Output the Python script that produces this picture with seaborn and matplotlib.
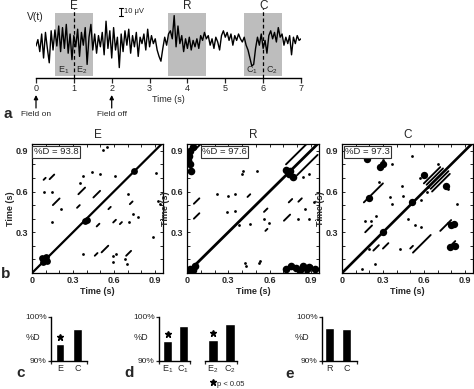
import numpy as np
import pandas as pd
import matplotlib
matplotlib.use("Agg")
import matplotlib.pyplot as plt
from matplotlib.lines import Line2D
import seaborn as sns

# ---------------- data ----------------
trace_t = np.round(np.arange(0, 141) * 0.05, 2)
trace_uv = [
    -5, 3, -12, 10, -20, 12, -8, -26, 14, -10,
    15, -5, 20, -12, 18, -8, 22, -14, 10, -22,
    8, -6, 16, -18, 12, -4, 18, -28, 6, 22,
    -10, 10, -14, 8, -6, 12, -16, 26, -8, 14,
    -20, 18, -10, 6, -32, 10, -12, 14, -4, 16,
    -14, 8, -6, 12, -18, 6, -2, 10, -10, 16,
    -6, 8, -2, 4, -10, -18, -24, -8, 6, -4,
    10, 14, 4, 33, -6, 20, -2, 8, -12, 4,
    -8, 6, -10, 2, -6, 4, -8, 8, 2, 12,
    4, 8, -4, 4, -8, 6, 0, -10, 8, 14,
    6, 12, 2, 10, -4, 8, 2, 10, 4, 0,
    6, -4, -10, -20, -30, -28, -8, 6, -4, 10,
    -8, 2, -14, 8, 14, 4, 12, 0, 18, 6,
    10, -4, 6, -2, 8, -16, 6, -2, 8, 2,
    4,
]
window_names = ["E", "R", "C"]
window_start = [0.5, 3.5, 5.5]
window_end = [1.5, 4.5, 6.5]
window_center = [1.0, 4.0, 6.0]
split_times = [1.0, 6.0]
sub_labels = ["E$_1$", "E$_2$", "C$_1$", "C$_2$"]
sub_times = [0.74, 1.21, 5.7, 6.23]
field_labels = ["Field on", "Field off"]
field_times = [0.0, 2.0]
pct_D = [93.8, 97.6, 97.3]

# recurrence plots: diagonal line segments (x0, y0, length) and points
E_seg_x0 = [0.00, 0.129, 0.153, 0.34, 0.45, 0.51, 0.69, 0.595, 0.46, 0.717, 0.56, 0.33, 0.474, 0.644, 0.085]
E_seg_y0 = [0.00, 0.691, 0.50, 0.58, 0.556, 0.152, 0.127, 0.372, 0.127, 0.507, 0.47, 0.48, 0.343, 0.36, 0.686]
E_seg_len = [0.95, 0.034, 0.049, 0.049, 0.049, 0.049, 0.036, 0.02, 0.02, 0.02, 0.017, 0.02, 0.02, 0.015, 0.015]
E_blob_x = [0.09, 0.07, 0.11, 0.08, 0.10, 0.40, 0.39, 0.75]
E_blob_y = [0.10, 0.11, 0.09, 0.08, 0.12, 0.39, 0.38, 0.75]
E_dot_x = [0.085, 0.146, 0.146, 0.352, 0.377, 0.437, 0.498, 0.607, 0.522, 0.547, 0.911, 0.923, 0.935,
           0.705, 0.712, 0.377, 0.595, 0.615, 0.595, 0.68, 0.693, 0.887, 0.778, 0.21, 0.74]
E_dot_y = [0.593, 0.598, 0.372, 0.666, 0.715, 0.745, 0.728, 0.715, 0.906, 0.931, 0.735, 0.532, 0.507,
           0.58, 0.372, 0.14, 0.127, 0.14, 0.078, 0.103, 0.066, 0.262, 0.409, 0.47, 0.434]

R_seg_x0 = [0.00, 0.72, 0.80, 0.06, 0.05, 0.05, 0.44, 0.56, 0.705, 0.74, 0.81, 0.57, 0.86]
R_seg_y0 = [0.00, 0.80, 0.72, 0.91, 0.51, 0.40, 0.56, 0.45, 0.385, 0.52, 0.525, 0.31, 0.00]
R_seg_len = [0.95, 0.15, 0.15, 0.04, 0.04, 0.04, 0.02, 0.025, 0.045, 0.025, 0.025, 0.015, 0.05]
R_blob_x = [0.02, 0.04, 0.02, 0.015, 0.02, 0.03, 0.045, 0.01, 0.74, 0.72, 0.77, 0.75,
            0.72, 0.755, 0.79, 0.82, 0.84, 0.87, 0.89, 0.93, 0.06]
R_blob_y = [0.03, 0.02, 0.90, 0.86, 0.80, 0.75, 0.93, 0.83, 0.73, 0.76, 0.71, 0.75,
            0.03, 0.05, 0.04, 0.02, 0.05, 0.03, 0.045, 0.03, 0.05]
R_dot_x = [0.42, 0.43, 0.525, 0.53, 0.40, 0.41, 0.51, 0.30, 0.35, 0.29, 0.35, 0.46, 0.595,
           0.89, 0.84, 0.89, 0.38, 0.81, 0.22, 0.56, 0.86, 0.92]
R_dot_y = [0.07, 0.05, 0.07, 0.09, 0.73, 0.75, 0.75, 0.57, 0.58, 0.45, 0.46, 0.36, 0.37,
           0.40, 0.71, 0.73, 0.35, 0.40, 0.58, 0.40, 0.47, 0.52]

C_seg_x0 = [0.00, 0.60, 0.62, 0.65, 0.66, 0.16, 0.72, 0.52, 0.17, 0.23, 0.30, 0.50, 0.78]
C_seg_y0 = [0.00, 0.66, 0.65, 0.62, 0.60, 0.52, 0.31, 0.15, 0.30, 0.165, 0.18, 0.18, 0.185]
C_seg_len = [0.95, 0.12, 0.12, 0.13, 0.13, 0.14, 0.08, 0.13, 0.05, 0.04, 0.04, 0.02, 0.05]
C_blob_x = [0.30, 0.51, 0.18, 0.30, 0.28, 0.20, 0.80, 0.82, 0.79, 0.83, 0.60, 0.76]
C_blob_y = [0.30, 0.52, 0.84, 0.80, 0.78, 0.55, 0.35, 0.36, 0.19, 0.20, 0.72, 0.64]
C_dot_x = [0.30, 0.37, 0.51, 0.27, 0.35, 0.37, 0.44, 0.45, 0.58, 0.63, 0.84, 0.535, 0.58, 0.78,
           0.17, 0.21, 0.195, 0.425, 0.24, 0.146, 0.57, 0.78, 0.70, 0.62, 0.48, 0.25]
C_dot_y = [0.83, 0.80, 0.86, 0.67, 0.56, 0.51, 0.64, 0.57, 0.54, 0.63, 0.51, 0.35, 0.34, 0.37,
           0.385, 0.385, 0.175, 0.175, 0.066, 0.03, 0.70, 0.62, 0.80, 0.60, 0.40, 0.42]

# bar panels
c_labels = ["E", "C"]
c_values = [93.8, 97.3]
c_sig = [True, False]
d1_labels = ["E$_1$", "C$_1$"]
d1_values = [94.5, 98.0]
d1_sig = [True, False]
d2_labels = ["E$_2$", "C$_2$"]
d2_values = [94.8, 98.5]
d2_sig = [True, False]
e_labels = ["R", "C"]
e_values = [97.6, 97.3]
e_sig = [False, False]

# ---------------- figure ----------------
W, H = 474, 389
sns.set_style("white")
plt.rcParams["font.family"] = ["Liberation Sans", "DejaVu Sans"]
plt.rcParams["mathtext.fontset"] = "custom"
plt.rcParams["mathtext.rm"] = "Liberation Sans"
plt.rcParams["mathtext.it"] = "Liberation Sans"
fig = plt.figure(figsize=(W / 100, H / 100), dpi=100)


def ax_px(l, t, r, b):
    return fig.add_axes([l / W, 1 - b / H, (r - l) / W, (b - t) / H])


def ftext(x, y, s, **kw):
    fig.text(x / W, 1 - y / H, s, **kw)


# ---- panel a ----
axa = ax_px(36, 0, 301, 78)
axa.set_xlim(0, 7)
axa.set_ylim(-45, 52.5)
for s, e in zip(window_start, window_end):
    axa.fill_between([s, e], -42.5, 36, color="#bdbdbd", lw=0)
for t in split_times:
    axa.plot([t, t], [-45, 42.5], ls=(0, (3, 2)), color="k", lw=0.9)
sns.lineplot(x=trace_t, y=trace_uv, ax=axa, color="k", lw=1.0)
for name, c in zip(window_names, window_center):
    axa.text(c, 45, name, ha="center", va="center", fontsize=8.5)
for lab, t in zip(sub_labels, sub_times):
    axa.text(t, -35, lab, ha="center", va="center", fontsize=6.5)
# scale bar
axa.plot([2.245, 2.245], [32.5, 42.5], color="k", lw=0.8)
axa.plot([2.205, 2.285], [42.5, 42.5], color="k", lw=0.8)
axa.plot([2.205, 2.285], [32.5, 32.5], color="k", lw=0.8)
axa.text(2.33, 38.5, "10 \u03bcV", fontsize=5.5, va="center", ha="left")
for sp in ["top", "left", "right"]:
    axa.spines[sp].set_visible(False)
axa.spines["bottom"].set_linewidth(1.0)
axa.spines["bottom"].set_color("k")
axa.set_xticks(range(8))
axa.set_yticks([])
axa.tick_params(axis="x", direction="out", length=3.5, width=0.9, pad=1, labelsize=6.5, bottom=True)
axa.set_xlabel("Time (s)", fontsize=6.5, labelpad=1.5)
axa.set_ylabel("")
for lab, t in zip(field_labels, field_times):
    axa.annotate("", xy=(t, H - 95), xytext=(t, H - 108), xycoords=("data", "figure pixels"),
                 textcoords=("data", "figure pixels"),
                 arrowprops=dict(arrowstyle="-|>", color="k", lw=0.9, mutation_scale=6, shrinkA=0, shrinkB=0),
                 annotation_clip=False)
    axa.annotate(lab, xy=(t, H - 114), xycoords=("data", "figure pixels"), ha="center", va="center",
                 fontsize=6, annotation_clip=False)
ftext(27, 17, "V(t)", fontsize=7.5, va="center", ha="left")
ftext(8, 114, "a", fontsize=11, fontweight="bold", va="center", ha="center")

# ---- panel b ----
rp_boxes = [(32, 144, 163, 273), (187, 144, 319, 273), (342, 144, 473, 273)]
label_x = [0.012, 0.115, 0.025]
rp_data = [
    (E_seg_x0, E_seg_y0, E_seg_len, E_blob_x, E_blob_y, E_dot_x, E_dot_y),
    (R_seg_x0, R_seg_y0, R_seg_len, R_blob_x, R_blob_y, R_dot_x, R_dot_y),
    (C_seg_x0, C_seg_y0, C_seg_len, C_blob_x, C_blob_y, C_dot_x, C_dot_y),
]
blob_sizes = [24, 30, 28]
diag_lw = [1.6, 2.0, 1.9]
for i, (box, name, pdv, dat) in enumerate(zip(rp_boxes, window_names, pct_D, rp_data)):
    ax = ax_px(*box)
    sx, sy, sl, bx, by, dx, dy = dat
    rows = []
    for k, (a, b, l) in enumerate(zip(sx, sy, sl)):
        rows.append(dict(seg=k, x=a, y=b))
        rows.append(dict(seg=k, x=a + l, y=b + l))
    df = pd.DataFrame(rows)
    sns.lineplot(data=df[df.seg == 0], x="x", y="y", units="seg", estimator=None, sort=False,
                 color="k", lw=diag_lw[i], ax=ax)
    sns.lineplot(data=df[df.seg > 0], x="x", y="y", units="seg", estimator=None, sort=False,
                 color="k", lw=1.35, ax=ax, solid_capstyle="round")
    sns.scatterplot(x=bx, y=by, s=blob_sizes[i], color="k", linewidth=0, ax=ax)
    sns.scatterplot(x=dx, y=dy, s=4, color="k", linewidth=0, ax=ax)
    ax.set_xlim(0, 0.96)
    ax.set_ylim(0, 0.95)
    ticks = [k / 10 for k in range(10)]
    ax.set_xticks(ticks)
    ax.set_xticklabels(["0" if k == 0 else (f"{k/10:.1f}" if k % 3 == 0 else "") for k in range(10)])
    ax.set_yticks(ticks)
    ax.set_yticklabels([f"{k/10:.1f}" if (k % 3 == 0 and k > 0) else "" for k in range(10)])
    ax.tick_params(direction="in", length=2.5, width=0.7, top=True, right=True, bottom=True, left=True,
                   labelsize=6.5, pad=2.5)
    for lab in ax.get_xticklabels() + ax.get_yticklabels():
        lab.set_fontweight("bold")
    for sp in ax.spines.values():
        sp.set_visible(True)
        sp.set_color("k")
        sp.set_linewidth(0.9)
    ax.set_xlabel("Time (s)", fontsize=6.5, fontweight="bold", labelpad=1)
    ax.set_ylabel("Time (s)", fontsize=6.5, fontweight="bold", labelpad=1)
    ax.set_title(name, fontsize=8.5, pad=4)
    ax.text(label_x[i], 0.975, f"%D = {pdv}", transform=ax.transAxes, ha="left", va="top",
            fontsize=6.8, zorder=5,
            bbox=dict(boxstyle="square,pad=0.15", fc="white", ec="#333333", lw=0.8))
ftext(6, 274, "b", fontsize=11, fontweight="bold", va="center", ha="center")


# ---- bar panels ----
def bar_panel(box, labels, values, sig, xlim, width, yaxis=True):
    ax = ax_px(*box)
    sns.barplot(x=labels, y=values, color="k", width=width, ax=ax, saturation=1)
    ax.set_xlim(*xlim)
    ax.set_ylim(90, 100)
    for sp in ["top", "right"]:
        ax.spines[sp].set_visible(False)
    ax.spines["bottom"].set_linewidth(1.0)
    ax.spines["bottom"].set_color("k")
    if yaxis:
        ax.spines["left"].set_linewidth(1.0)
        ax.spines["left"].set_color("k")
        ax.set_yticks([90, 100])
        ax.set_yticklabels(["90%", "100%"])
        ax.tick_params(axis="y", direction="out", length=2.5, width=0.9, pad=0.5, labelsize=6, left=True)
    else:
        ax.spines["left"].set_visible(False)
        ax.set_yticks([])
    ax.set_xticks([0, 1])
    ax.set_xticklabels(labels)
    ax.set_xticks(list(xlim), minor=True)
    ax.tick_params(axis="x", which="major", length=0, pad=2, labelsize=6.5)
    ax.tick_params(axis="x", which="minor", length=2.5, width=0.9, direction="out", bottom=True)
    ax.set_ylabel("")
    for k, (v, sgn) in enumerate(zip(values, sig)):
        if sgn:
            ax.plot([k], [v + 1.6], marker="*", ms=5, color="k", clip_on=False)
    return ax


bar_panel((51, 317, 87, 361), c_labels, c_values, c_sig, (-0.52, 1.55), 0.5)
bar_panel((159, 317, 190, 361), d1_labels, d1_values, d1_sig, (-0.55, 1.45), 0.58)
bar_panel((205, 317, 237, 361), d2_labels, d2_values, d2_sig, (-0.48, 1.45), 0.6, yaxis=False)
bar_panel((322, 317, 357, 361), e_labels, e_values, e_sig, (-0.44, 1.62), 0.53)

for x in [33, 141, 302]:
    ftext(x, 338, "%D", fontsize=6.5, ha="center", va="center")
ftext(21, 373, "c", fontsize=11, fontweight="bold", va="center", ha="center")
ftext(129, 373, "d", fontsize=11, fontweight="bold", va="center", ha="center")
ftext(290, 374, "e", fontsize=11, fontweight="bold", va="center", ha="center")
fig.add_artist(Line2D([213 / W], [1 - 382 / H], marker="*", ms=5, color="k", transform=fig.transFigure))
ftext(217, 385, "p < 0.05", fontsize=5.5, ha="left", va="center")

fig.savefig("out.png", dpi=100)
